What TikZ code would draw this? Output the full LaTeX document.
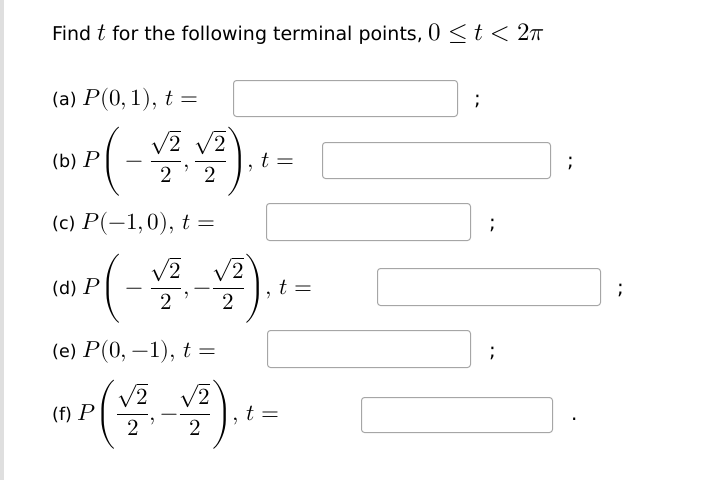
\documentclass[tikz,border=0pt]{standalone}
\usepackage{fontspec}
\setmainfont{DejaVu Sans}
\usepackage{unicode-math}
\setmathfont{Latin Modern Math}
\newcommand{\MM}[1]{\scalebox{1.32}{$\displaystyle #1$}}
\begin{document}
\begin{tikzpicture}[x=1pt,y=-1pt,
  lbl/.style={anchor=base west,inner sep=0pt,font=\fontsize{17.5}{21}\selectfont},
  ans/.style={draw=gray!70,rounded corners=3pt,line width=1pt,anchor=north west,inner sep=0pt},
  sep/.style={anchor=base west,inner sep=0pt,font=\fontsize{20}{22}\selectfont}]
\useasboundingbox (0,0) rectangle (712,480);
\fill[gray!25] (0,0) rectangle (4,480);
\node[lbl,font=\fontsize{19}{22}\selectfont] (title) at (52,40) {Find \MM{t} for the following terminal points, \MM{0\le t<2\pi}};
\node[lbl] (la) at (52,105) {(a) \MM{P(0,1),\,t=}};
\node[ans,minimum width=224pt,minimum height=36pt] (ba) at (233,80) {};
\node[sep] (sa) at (474,105) {;};
\node[lbl] (lb) at (52,167) {(b) \MM{P\Bigg(-\frac{\sqrt2}{2},\frac{\sqrt2}{2}\Bigg),\,t=}};
\node[ans,minimum width=228pt,minimum height=36pt] (bb) at (322,142) {};
\node[sep] (sb) at (567,167) {;};
\node[lbl] (lc) at (52,229) {(c) \MM{P(-1,0),\,t=}};
\node[ans,minimum width=204pt,minimum height=37pt] (bc) at (266,203) {};
\node[sep] (sc) at (489,229) {;};
\node[lbl] (ld) at (52,294) {(d) \MM{P\Bigg(-\frac{\sqrt2}{2},-\frac{\sqrt2}{2}\Bigg),\,t=}};
\node[ans,minimum width=223pt,minimum height=37pt] (bd) at (377,268) {};
\node[sep] (sd) at (617,294) {;};
\node[lbl] (le) at (52,357) {(e) \MM{P(0,-1),\,t=}};
\node[ans,minimum width=203pt,minimum height=37pt] (be) at (267,330) {};
\node[sep] (se) at (489,357) {;};
\node[lbl] (lf) at (52,420) {(f) \MM{P\Bigg(\frac{\sqrt2}{2},-\frac{\sqrt2}{2}\Bigg),\,t=}};
\node[ans,minimum width=191pt,minimum height=35pt] (bf) at (361,397) {};
\node[sep] (sf) at (571,420) {.};
\end{tikzpicture}
\end{document}
